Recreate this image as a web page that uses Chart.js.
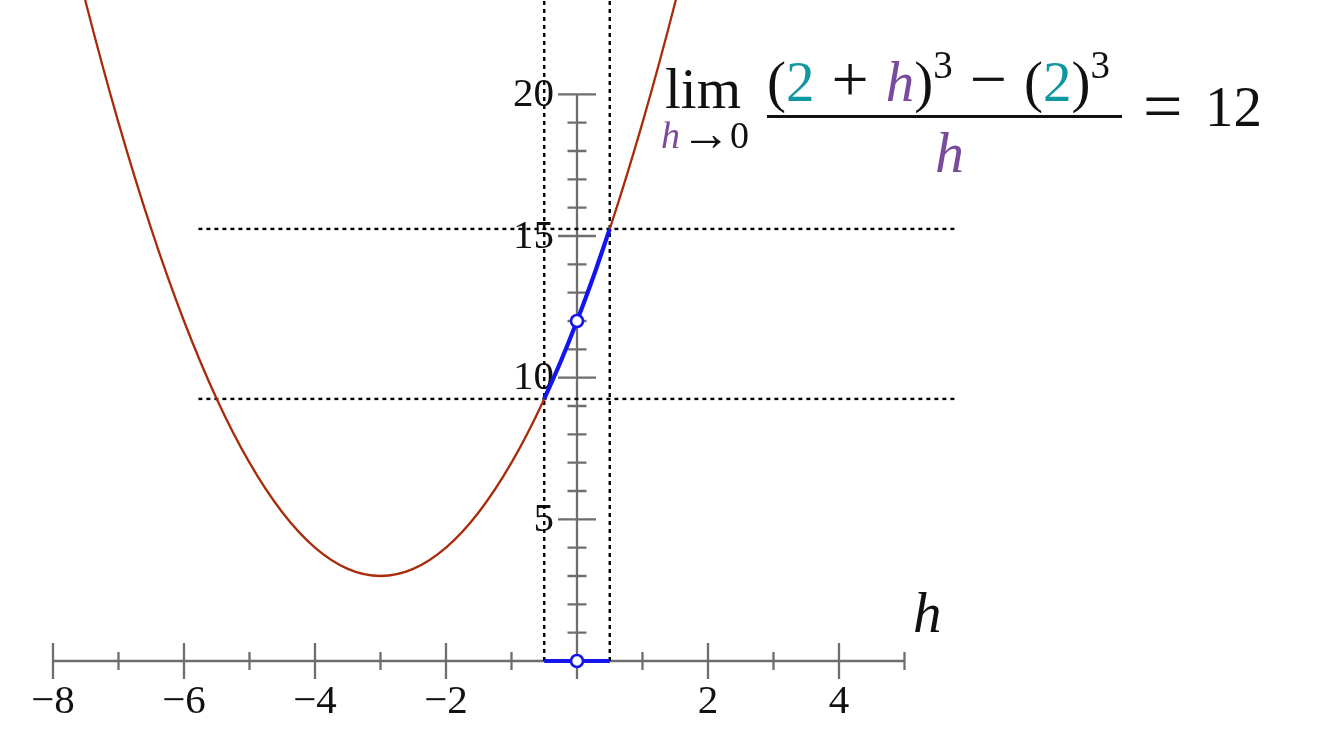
<!DOCTYPE html>
<html>
<head>
<meta charset="utf-8">
<title>Limit of the difference quotient</title>
<script src="https://cdn.jsdelivr.net/npm/chart.js@4.4.0/dist/chart.umd.min.js"></script>
<style>
  html, body { margin: 0; padding: 0; background: #fff; }
  #wrap { position: relative; width: 1344px; height: 756px; overflow: hidden; }
  .tex {
    position: absolute;
    font-family: "Liberation Serif", "DejaVu Serif", serif;
    line-height: 1;
    white-space: nowrap;
    color: #111;
  }
  .it { font-style: italic; }
  .teal { color: #10979f; }
  .purp { color: #7a4a9c; }
  .sup { font-size: 39px; position: relative; top: -23px; }
  .op { margin: 0 17px; font-size: 66px; line-height: 0; }
  .bar { position: absolute; background: #111; }
</style>
</head>
<body>
<div id="wrap">
  <canvas id="limitChart"></canvas>

  <!-- the limit formula -->
  <div class="tex" style="left:665px; top:60px; font-size:57px;">lim</div>
  <div class="tex" style="left:661px; top:116px; font-size:38px;"><span class="it purp">h</span><span style="font-size:50px; line-height:0; position:relative; top:2px; margin:0 -1px 0 1px;">→</span>0</div>
  <div class="tex" style="left:767px; top:53px; font-size:57px;">(<span class="teal">2</span><span class="op">+</span><span class="it purp">h</span>)<span class="sup">3</span><span class="op">−</span>(<span class="teal">2</span>)<span class="sup">3</span></div>
  <div class="bar" style="left:767px; top:115px; width:355px; height:2.5px;"></div>
  <div class="tex it purp" style="left:935px; top:124px; font-size:58px;">h</div>
  <div class="tex" style="left:1143px; top:72px; font-size:70px;">=</div>
  <div class="tex" style="left:1205px; top:78px; font-size:57px;">12</div>

  <!-- axis name -->
  <div class="tex it" style="left:913px; top:584px; font-size:57px;">h</div>
</div>

<script>
// view window (data units)
const viewX = [-8.809, 11.71];
const viewY = [-3.353, 23.33];

// axes
const xAxisRange = [-8, 5];
const yAxisTop = 20;
const xTicks = [-8, -7, -6, -5, -4, -3, -2, -1, 1, 2, 3, 4, 5];
const xTickLabels = [-8, -6, -4, -2, 2, 4];
const yTicks = [1, 2, 3, 4, 5, 6, 7, 8, 9, 10, 11, 12, 13, 14, 15, 16, 17, 18, 19, 20];
const yTickLabels = [5, 10, 15, 20];

// the difference quotient curve
const curveH = [-8, -7.5, -7, -6.5, -6, -5.5, -5, -4.5, -4, -3.5, -3, -2.5, -2, -1.5, -1, -0.5, 0, 0.5, 1, 1.5, 2];
const curveF = [28, 23.25, 19, 15.25, 12, 9.25, 7, 5.25, 4, 3.25, 3, 3.25, 4, 5.25, 7, 9.25, 12, 15.25, 19, 23.25, 28];

// highlighted window around h = 0
const windowH = [-0.5, -0.25, 0, 0.25, 0.5];
const windowF = [9.25, 10.56, 12, 13.56, 15.25];
const windowAxisH = [-0.5, 0.5];

// open circles (hole at h = 0)
const holeH = [0, 0];
const holeF = [12, 0];

// dashed guides
const guideX = [-0.5, 0.5];
const guideXTop = 24;
const guideY = [9.25, 15.25];
const guideYRange = [-5.78, 5.78];

const RED = '#a82c0a';
const BLUE = '#1414ee';
const GREY = '#6e6e6e';

const toPoints = (xs, ys) => xs.map((v, i) => ({ x: v, y: ys[i] }));
const fmt = v => (v < 0 ? '\u2212' + Math.abs(v) : String(v));

const axesPlugin = {
  id: 'centerAxes',
  beforeDatasetsDraw(chart) {
    const { ctx, scales: { x, y } } = chart;
    const x0 = x.getPixelForValue(0);
    const y0 = y.getPixelForValue(0);

    ctx.save();
    ctx.strokeStyle = GREY;
    ctx.lineWidth = 2.3;
    ctx.beginPath();
    ctx.moveTo(x.getPixelForValue(xAxisRange[0]), y0);
    ctx.lineTo(x.getPixelForValue(xAxisRange[1]), y0);
    ctx.moveTo(x0, y0 + 18);
    ctx.lineTo(x0, y.getPixelForValue(yAxisTop));

    xTicks.forEach(v => {
      const px = x.getPixelForValue(v);
      const len = xTickLabels.includes(v) ? 18 : 9;
      ctx.moveTo(px, y0 - len);
      ctx.lineTo(px, y0 + len);
    });
    yTicks.forEach(v => {
      const py = y.getPixelForValue(v);
      const len = yTickLabels.includes(v) ? 19 : 9.5;
      ctx.moveTo(x0 - len, py);
      ctx.lineTo(x0 + len, py);
    });
    ctx.stroke();

    ctx.fillStyle = '#111';
    ctx.font = '41px "Liberation Serif", "DejaVu Serif", serif';
    ctx.textAlign = 'center';
    ctx.textBaseline = 'alphabetic';
    xTickLabels.forEach(v => {
      ctx.fillText(fmt(v), x.getPixelForValue(v), y0 + 52);
    });
    ctx.textAlign = 'right';
    ctx.textBaseline = 'middle';
    yTickLabels.forEach(v => {
      ctx.fillText(fmt(v), x0 - 23, y.getPixelForValue(v) + 1);
    });
    ctx.restore();
  }
};

const dashed = (data) => ({
  data,
  showLine: true,
  borderColor: '#000',
  borderWidth: 2.4,
  borderDash: [4, 4],
  pointRadius: 0,
  tension: 0
});

new Chart(document.getElementById('limitChart'), {
  type: 'scatter',
  data: {
    datasets: [
      {
        label: 'hole',
        data: toPoints(holeH, holeF),
        showLine: false,
        pointRadius: 6,
        pointBorderWidth: 2.6,
        pointBackgroundColor: '#fff',
        pointBorderColor: BLUE
      },
      {
        label: 'window',
        data: toPoints(windowH, windowF),
        showLine: true,
        borderColor: BLUE,
        borderWidth: 4.2,
        pointRadius: 0,
        cubicInterpolationMode: 'monotone'
      },
      {
        label: 'window on axis',
        data: toPoints(windowAxisH, [0, 0]),
        showLine: true,
        borderColor: BLUE,
        borderWidth: 4.2,
        pointRadius: 0
      },
      {
        label: 'curve',
        data: toPoints(curveH, curveF),
        showLine: true,
        borderColor: RED,
        borderWidth: 2.3,
        pointRadius: 0,
        cubicInterpolationMode: 'monotone'
      },
      dashed(toPoints([guideX[0], guideX[0]], [0, guideXTop])),
      dashed(toPoints([guideX[1], guideX[1]], [0, guideXTop])),
      dashed(toPoints(guideYRange, [guideY[0], guideY[0]])),
      dashed(toPoints(guideYRange, [guideY[1], guideY[1]]))
    ]
  },
  options: {
    responsive: true,
    maintainAspectRatio: false,
    animation: false,
    events: [],
    layout: { padding: 0, autoPadding: false },
    plugins: {
      legend: { display: false },
      tooltip: { enabled: false }
    },
    scales: {
      x: { type: 'linear', min: viewX[0], max: viewX[1], display: false },
      y: { type: 'linear', min: viewY[0], max: viewY[1], display: false }
    }
  },
  plugins: [axesPlugin]
});
</script>
</body>
</html>
